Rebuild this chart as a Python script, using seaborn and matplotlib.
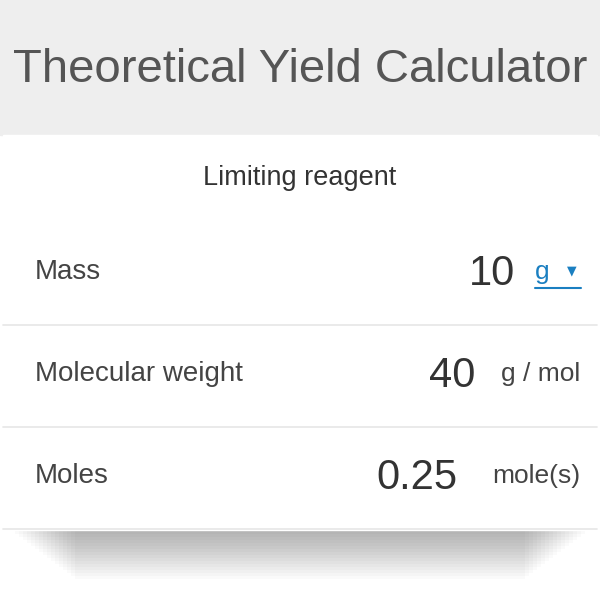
import matplotlib.pyplot as plt
import seaborn as sns
from matplotlib.patches import Rectangle

sns.set_theme(style="white", font="Liberation Sans")

# Widget content
title = "Theoretical Yield Calculator"
section = "Limiting reagent"
row_labels = ["Mass", "Molecular weight", "Moles"]
row_values = ["10", "40", "0.25"]
row_units = ["g", "g / mol", "mole(s)"]

fig = plt.figure(figsize=(6, 6), dpi=100)
ax = fig.add_axes([0, 0, 1, 1])
ax.set_xlim(0, 600)
ax.set_ylim(600, 0)
ax.axis("off")

# header and soft shadow
ax.add_patch(Rectangle((0, 0), 600, 135, color="#eeeeee", zorder=0))
for i in range(16):
    ax.add_patch(Rectangle((15 + i * 4, 528), 570 - i * 8, 6 + i * 3,
                           color="black", alpha=0.018, lw=0, zorder=0))
ax.add_patch(Rectangle((3, 135), 594, 395, color="white", zorder=1))

ax.text(300, 70, title, ha="center", va="center", fontsize=34, color="#555555", zorder=3)
ax.text(300, 178, section, ha="center", va="center", fontsize=19.5, color="#333333", zorder=3)

row_y = [272, 374, 476]
value_right = [515, 475, 458]
for i, (y, lab, val, unit, vr) in enumerate(zip(row_y, row_labels, row_values, row_units, value_right)):
    ax.text(35, y, lab, ha="left", va="center", fontsize=20, color="#444444", zorder=3)
    ax.text(vr, y + 2, val, ha="right", va="center", fontsize=30, color="#333333", zorder=3)
    if i == 0:
        ax.text(535, y, unit, ha="left", va="center", fontsize=19, color="#1a7fc1", zorder=3)
        ax.text(572, y - 1, "▼", ha="center", va="center", fontsize=9,
                family="DejaVu Sans", color="#1a7fc1", zorder=3)
        ax.plot([535, 581], [y + 16, y + 16], color="#1a7fc1", lw=1.5, zorder=3)
    else:
        ax.text(580, y, unit, ha="right", va="center", fontsize=19, color="#444444", zorder=3)
    ax.plot([3, 597], [y + 53, y + 53], color="#e6e6e6", lw=1.2, zorder=2)

fig.savefig("out.png", dpi=100)
